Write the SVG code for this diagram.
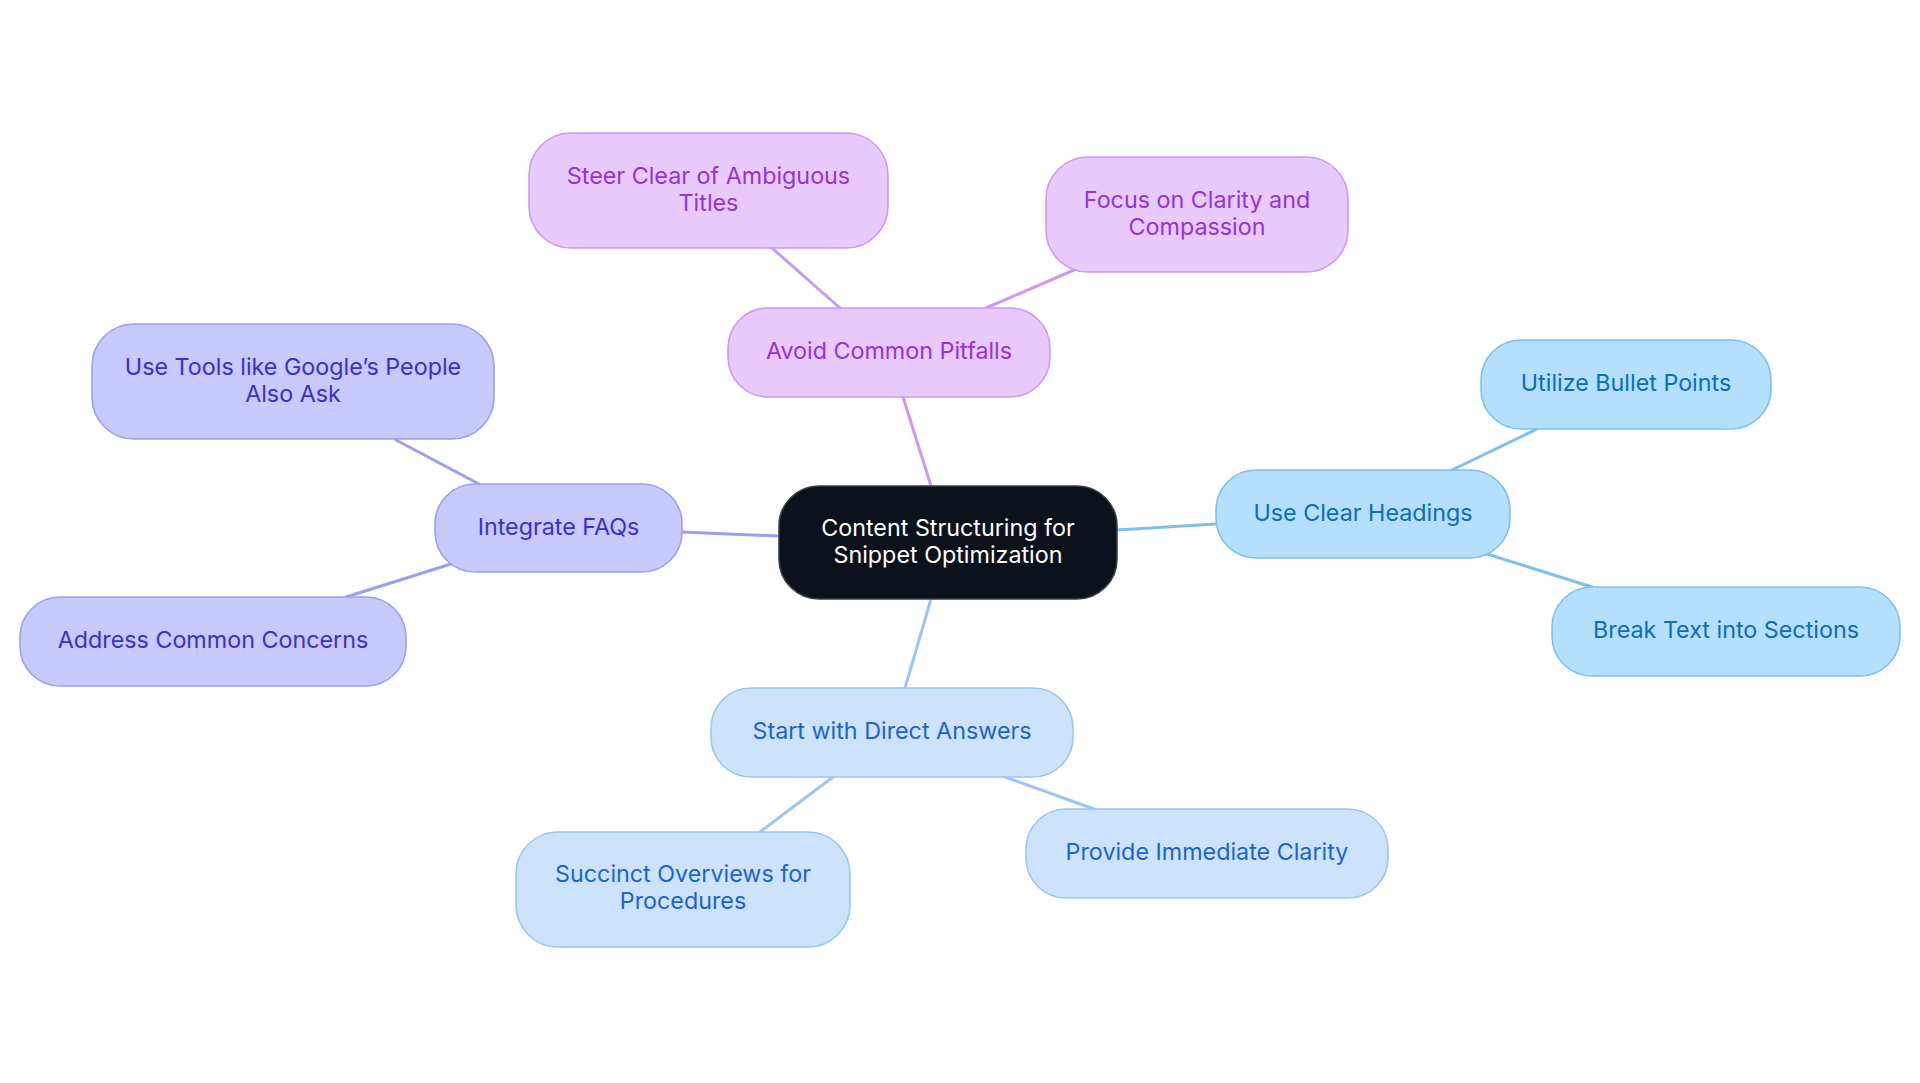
<svg xmlns="http://www.w3.org/2000/svg" width="1920" height="1083" viewBox="0 0 1920 1083">
<style>
text{font-family:Inter,"Noto Sans","Liberation Sans",sans-serif;font-size:23.3px;text-anchor:middle}
.c line{stroke-width:3;stroke-linecap:round}
.node rect{stroke-width:1.6}
.root rect{fill:#0b121c;stroke:#3a3f47}
.root text{fill:#ffffff}
.pu rect{fill:#e8cafd;stroke:#c99bf1}
.pu text{fill:#9332e0}
.in rect{fill:#c8c9fc;stroke:#9a9ff3}
.in text{fill:#3a2fcf}
.sk rect{fill:#b4dffd;stroke:#7cc0f0}
.sk text{fill:#0b6cc2}
.bl rect{fill:#cde3fb;stroke:#9cc5f1}
.bl text{fill:#1c63d2}
</style>
<rect width="1920" height="1083" fill="#ffffff"/>
<g id="connectors" class="c">
<line x1="681" y1="532" x2="779" y2="536" stroke="#9b9ff1"/>
<line x1="396" y1="440" x2="479" y2="484" stroke="#9b9ff1"/>
<line x1="451" y1="564" x2="346" y2="597" stroke="#9b9ff1"/>
<line x1="931" y1="486" x2="903" y2="397" stroke="#c89af4"/>
<line x1="772" y1="248" x2="840" y2="308" stroke="#c89af4"/>
<line x1="1074" y1="270" x2="986" y2="308" stroke="#c89af4"/>
<line x1="931" y1="599" x2="905" y2="688" stroke="#9cc5f1"/>
<line x1="833" y1="777" x2="760" y2="832" stroke="#9cc5f1"/>
<line x1="1005" y1="777" x2="1094" y2="809" stroke="#9cc5f1"/>
<line x1="1117" y1="530" x2="1216" y2="524" stroke="#7cc0f0"/>
<line x1="1452" y1="470" x2="1537" y2="429" stroke="#7cc0f0"/>
<line x1="1487" y1="554" x2="1592" y2="587" stroke="#7cc0f0"/>
</g>
<g id="root" class="node root">
<rect x="779" y="486" width="338" height="113" rx="40"/>
<text x="948" y="536">Content Structuring for</text>
<text x="948" y="563">Snippet Optimization</text>
</g>
<g id="avoid" class="node pu">
<rect x="728" y="308" width="322" height="89" rx="40"/>
<text x="889" y="359">Avoid Common Pitfalls</text>
</g>
<g id="steer" class="node pu">
<rect x="529" y="133" width="359" height="115" rx="42"/>
<text x="708.5" y="184">Steer Clear of Ambiguous</text>
<text x="708.5" y="211">Titles</text>
</g>
<g id="focus" class="node pu">
<rect x="1046" y="157" width="302" height="115" rx="42"/>
<text x="1197" y="208">Focus on Clarity and</text>
<text x="1197" y="235">Compassion</text>
</g>
<g id="faqs" class="node in">
<rect x="435" y="484" width="247" height="88" rx="40"/>
<text x="558.5" y="535">Integrate FAQs</text>
</g>
<g id="tools" class="node in">
<rect x="92" y="324" width="402" height="115" rx="42"/>
<text x="293" y="375">Use Tools like Google’s People</text>
<text x="293" y="402">Also Ask</text>
</g>
<g id="concerns" class="node in">
<rect x="20" y="597" width="386" height="89" rx="40"/>
<text x="213" y="648">Address Common Concerns</text>
</g>
<g id="headings" class="node sk">
<rect x="1216" y="470" width="294" height="88" rx="40"/>
<text x="1363" y="521">Use Clear Headings</text>
</g>
<g id="bullets" class="node sk">
<rect x="1481" y="340" width="290" height="89" rx="40"/>
<text x="1626" y="391">Utilize Bullet Points</text>
</g>
<g id="sections" class="node sk">
<rect x="1552" y="587" width="348" height="89" rx="40"/>
<text x="1726" y="638">Break Text into Sections</text>
</g>
<g id="direct" class="node bl">
<rect x="711" y="688" width="362" height="89" rx="40"/>
<text x="892" y="739">Start with Direct Answers</text>
</g>
<g id="succinct" class="node bl">
<rect x="516" y="832" width="334" height="115" rx="42"/>
<text x="683" y="882">Succinct Overviews for</text>
<text x="683" y="909">Procedures</text>
</g>
<g id="clarity" class="node bl">
<rect x="1026" y="809" width="362" height="89" rx="40"/>
<text x="1207" y="860">Provide Immediate Clarity</text>
</g>
</svg>
